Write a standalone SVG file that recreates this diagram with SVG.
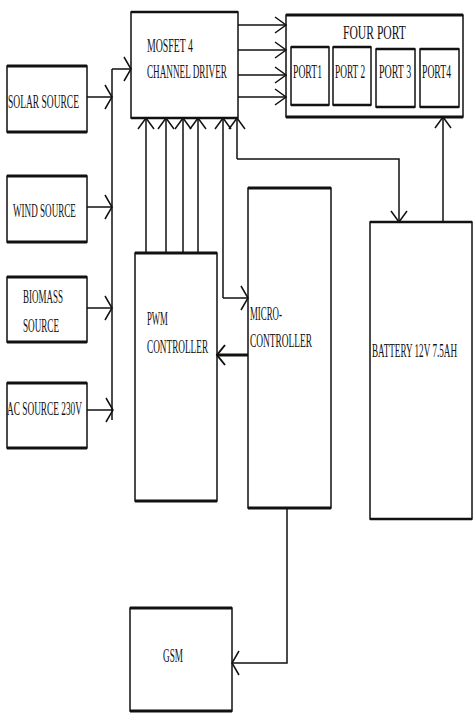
<svg xmlns="http://www.w3.org/2000/svg" width="474" height="714" viewBox="0 0 474 714">
<defs>
<marker id="arr" markerUnits="userSpaceOnUse" markerWidth="24" markerHeight="24" viewBox="-14 -12 16 24" refX="0" refY="0" orient="auto">
<path d="M -11 -8 L 0 0 L -11 8" fill="none" stroke="#111" stroke-width="1.5"/>
</marker>
<marker id="arrS" markerUnits="userSpaceOnUse" markerWidth="28" markerHeight="28" viewBox="-12 -14 14 28" refX="0" refY="0" orient="auto">
<path d="M -7 -12 L 0 0 L -7 12" fill="none" stroke="#111" stroke-width="1.5"/>
</marker>
<marker id="arrB" markerUnits="userSpaceOnUse" markerWidth="24" markerHeight="24" viewBox="-14 -12 16 24" refX="0" refY="0" orient="auto">
<path d="M -8 -10 L 0 0 L -8 10" fill="none" stroke="#111" stroke-width="2"/>
</marker>
</defs>
<style>
rect{fill:#fff;stroke:#111;stroke-width:1.5}
.e{stroke:#111;stroke-width:3;fill:none}
.c{stroke:#111;stroke-width:1.5;fill:none;marker-end:url(#arr)}
.s{marker-end:url(#arrS)}
.l{stroke:#111;stroke-width:1.5;fill:none}
text{font-family:"Liberation Serif","Times New Roman",serif;font-size:19px;fill:#111}
</style>
<rect x="0" y="0" width="474" height="714" style="stroke:none"/>
<g id="mosfet">
<rect x="131" y="12" width="107" height="106"/>
<path class="e" d="M131 12H238M131 118H238" style="stroke-width:2.5"/>
<text transform="translate(147 52) scale(0.516 1)" textLength="89" lengthAdjust="spacingAndGlyphs">MOSFET 4</text>
<text transform="translate(147 78) scale(0.481 1)" textLength="166" lengthAdjust="spacingAndGlyphs">CHANNEL DRIVER</text>
</g>
<g id="fourport">
<rect x="286" y="15" width="177" height="102"/>
<path class="e" d="M286 15H463M286 117H463"/>
<text transform="translate(343 39) scale(0.48 1)" font-size="24" textLength="131" lengthAdjust="spacingAndGlyphs">FOUR PORT</text>
</g>
<g id="port1">
<rect x="291" y="47" width="38" height="58"/>
<path class="e" d="M291 47H329M291 105H329" style="stroke-width:2.5"/>
<text transform="translate(293 78) scale(0.5 1)" textLength="58" lengthAdjust="spacingAndGlyphs">PORT1</text>
</g>
<g id="port2">
<rect x="333" y="47" width="38" height="58"/>
<path class="e" d="M333 47H371M333 105H371" style="stroke-width:2.5"/>
<text transform="translate(335 78) scale(0.478 1)" textLength="63" lengthAdjust="spacingAndGlyphs">PORT 2</text>
</g>
<g id="port3">
<rect x="376" y="49" width="39" height="58"/>
<path class="e" d="M376 49H415M376 107H415" style="stroke-width:2.5"/>
<text transform="translate(379 78) scale(0.51 1)" textLength="63" lengthAdjust="spacingAndGlyphs">PORT 3</text>
</g>
<g id="port4">
<rect x="420" y="49" width="39" height="58"/>
<path class="e" d="M420 49H459M420 107H459" style="stroke-width:2.5"/>
<text transform="translate(422 78) scale(0.5 1)" textLength="58" lengthAdjust="spacingAndGlyphs">PORT4</text>
</g>
<g id="solar">
<rect x="7" y="66" width="80" height="66"/>
<path class="e" d="M7 66H87M7 132H87"/>
<text transform="translate(8 108) scale(0.5 1)" textLength="142" lengthAdjust="spacingAndGlyphs">SOLAR SOURCE</text>
</g>
<g id="wind">
<rect x="7" y="176" width="80" height="66"/>
<path class="e" d="M7 176H87M7 242H87"/>
<text transform="translate(13 217) scale(0.48 1)" textLength="131" lengthAdjust="spacingAndGlyphs">WIND SOURCE</text>
</g>
<g id="biomass">
<rect x="7" y="277" width="80" height="65"/>
<path class="e" d="M7 277H87M7 342H87"/>
<text transform="translate(23 303) scale(0.473 1)" textLength="84.5" lengthAdjust="spacingAndGlyphs">BIOMASS</text>
<text transform="translate(23 332) scale(0.48 1)" textLength="75" lengthAdjust="spacingAndGlyphs">SOURCE</text>
</g>
<g id="ac">
<rect x="7" y="383" width="80" height="65"/>
<path class="e" d="M7 383H87M7 448H87"/>
<text transform="translate(7 415) scale(0.49 1)" textLength="153" lengthAdjust="spacingAndGlyphs">AC SOURCE 230V</text>
</g>
<g id="pwm">
<rect x="135" y="253" width="82" height="248"/>
<path class="e" d="M135 253H217M135 501H217"/>
<text transform="translate(147 325) scale(0.46 1)" textLength="45.4" lengthAdjust="spacingAndGlyphs">PWM</text>
<text transform="translate(147 353) scale(0.486 1)" textLength="125.6" lengthAdjust="spacingAndGlyphs">CONTROLLER</text>
</g>
<g id="micro">
<rect x="248" y="188" width="83" height="320"/>
<path class="e" d="M248 188H331M248 508H331"/>
<text transform="translate(250 320) scale(0.47 1)" textLength="68" lengthAdjust="spacingAndGlyphs">MICRO-</text>
<text transform="translate(250 347) scale(0.494 1)" textLength="125.6" lengthAdjust="spacingAndGlyphs">CONTROLLER</text>
</g>
<g id="battery">
<rect x="370" y="222" width="102" height="297"/>
<path class="e" d="M370 222H472M370 519H472" style="stroke-width:2.5"/>
<text transform="translate(372 357) scale(0.436 1)" textLength="195" lengthAdjust="spacingAndGlyphs">BATTERY 12V 7.5AH</text>
</g>
<g id="gsm">
<rect x="130" y="608" width="102" height="103"/>
<path class="e" d="M130 608H232M130 711H232"/>
<text transform="translate(163 662) scale(0.485 1)" textLength="41.2" lengthAdjust="spacingAndGlyphs">GSM</text>
</g>
<g id="connectors">
<path class="c" d="M238 25H286"/>
<path class="c" d="M238 50H286"/>
<path class="c" d="M238 75H286"/>
<path class="c" d="M238 97H286"/>
<path class="l" d="M112 69V420"/>
<path class="c s" d="M112 69H131"/>
<path class="c s" d="M87 97H112"/>
<path class="c s" d="M87 207H112"/>
<path class="c s" d="M87 308H112"/>
<path class="c s" d="M87 410H113"/>
<path class="c" d="M146 253V118"/>
<path class="c" d="M166 253V118"/>
<path class="c" d="M183 253V118"/>
<path class="c" d="M198 253V118"/>
<path class="c" d="M223 298V118"/>
<path class="c s" d="M223 298H248"/>
<path class="c" d="M237 159V118"/>
<path class="c" d="M237 159H399V222"/>
<path class="c" d="M443 222V117"/>
<path class="c" d="M248 355H217" style="stroke-width:3;marker-end:url(#arrB)"/>
<path class="c s" d="M287 508V663H232"/>
</g>
</svg>
